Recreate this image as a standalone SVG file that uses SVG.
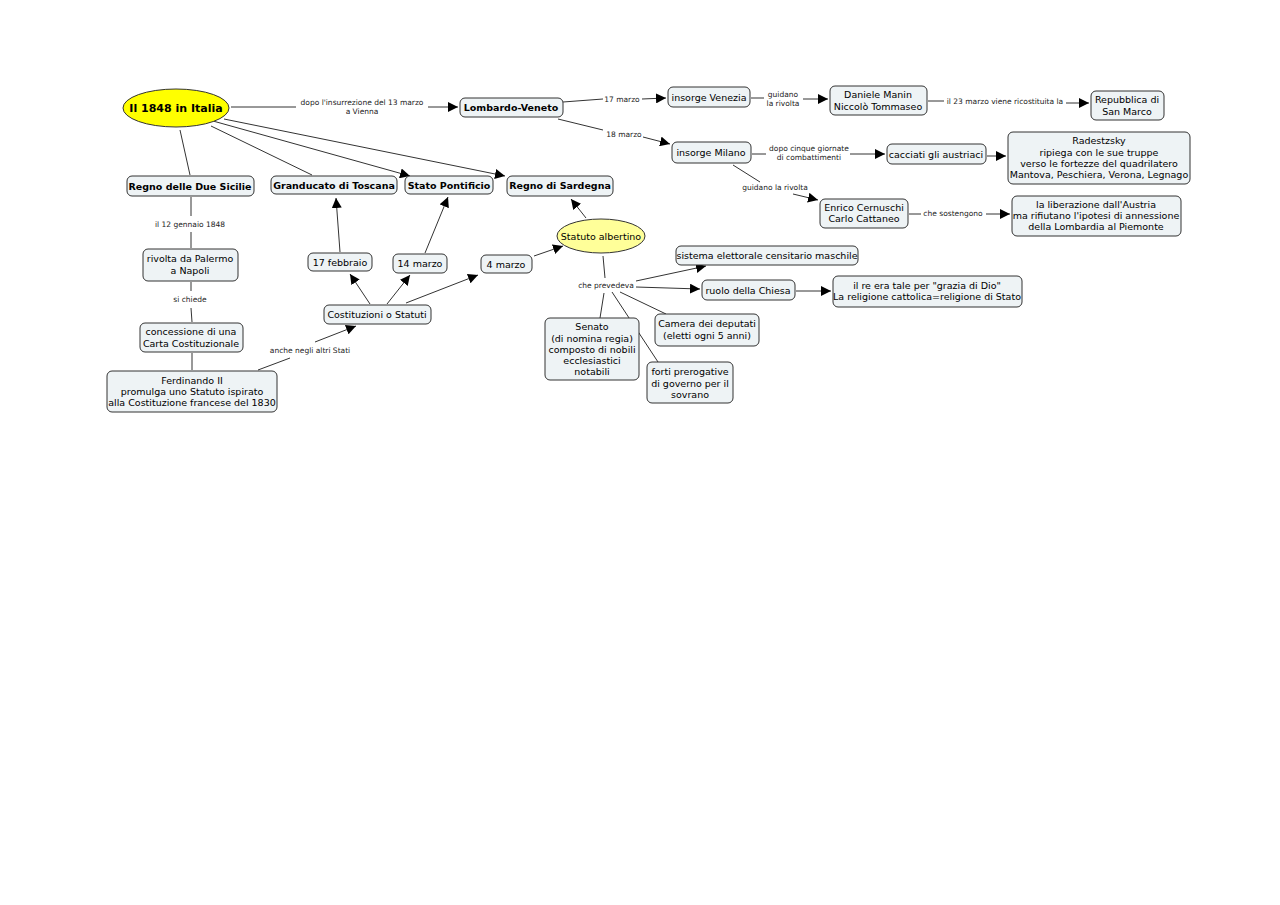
<svg xmlns="http://www.w3.org/2000/svg" width="1280" height="905" viewBox="0 0 1280 905">
<defs>
<marker id="a" viewBox="0 0 10 10" refX="10" refY="5" markerWidth="10" markerHeight="10" markerUnits="userSpaceOnUse" orient="auto"><path d="M0,0 L10,5 L0,10 z" fill="#000"/></marker>
<style>
.n{fill:#eef3f5;stroke:#333;stroke-width:1}
.t{font-family:"DejaVu Sans",Verdana,sans-serif;font-size:9.5px;fill:#000;text-anchor:middle}
.b{font-weight:bold}
.l{font-family:"DejaVu Sans",Verdana,sans-serif;font-size:7.5px;fill:#222;text-anchor:middle}
.c line{stroke:#333;stroke-width:1}
.c line.ar{marker-end:url(#a)}
</style>
</defs>
<rect width="1280" height="905" fill="#fff"/>
<g class="c" id="connectors">
<line x1="231" y1="107" x2="296" y2="107"/><line class="ar" x1="428" y1="107" x2="458" y2="107"/>
<line x1="563" y1="102" x2="603" y2="99"/><line class="ar" x1="642" y1="99" x2="666" y2="98"/>
<line x1="558" y1="119" x2="603" y2="130"/><line class="ar" x1="643" y1="137" x2="670" y2="144"/>
<line x1="751" y1="98" x2="764" y2="98"/><line class="ar" x1="803" y1="99" x2="828" y2="99"/>
<line x1="928" y1="101" x2="944" y2="101"/><line class="ar" x1="1066" y1="103" x2="1089" y2="103"/>
<line x1="752" y1="154" x2="766" y2="154"/><line class="ar" x1="850" y1="154" x2="885" y2="154"/>
<line class="ar" x1="987" y1="156" x2="1006" y2="156"/>
<line x1="733" y1="165" x2="760" y2="182"/><line class="ar" x1="793" y1="194" x2="818" y2="200"/>
<line x1="909" y1="214" x2="921" y2="214"/><line class="ar" x1="986" y1="214" x2="1010" y2="214"/>
<line x1="180" y1="130" x2="190" y2="175"/>
<line x1="211" y1="126" x2="312" y2="175"/>
<line class="ar" x1="213" y1="121" x2="410" y2="176"/>
<line class="ar" x1="224" y1="119" x2="505" y2="176"/>
<line x1="191" y1="197" x2="191" y2="216"/><line x1="191" y1="232" x2="191" y2="248"/>
<line x1="191" y1="282" x2="191" y2="291"/><line x1="191" y1="308" x2="192" y2="322"/>
<line x1="192" y1="353" x2="192" y2="370"/>
<line x1="258" y1="370" x2="290" y2="358"/><line class="ar" x1="315" y1="342" x2="356" y2="326"/>
<line class="ar" x1="370" y1="304" x2="350" y2="274"/>
<line class="ar" x1="387" y1="304" x2="410" y2="275"/>
<line class="ar" x1="406" y1="303" x2="478" y2="275"/>
<line class="ar" x1="340" y1="252" x2="336" y2="198"/>
<line class="ar" x1="425" y1="253" x2="448" y2="197"/>
<line class="ar" x1="534" y1="256" x2="563" y2="246"/>
<line class="ar" x1="586" y1="218" x2="571" y2="199"/>
<line x1="603" y1="256" x2="605" y2="278"/>
<line class="ar" x1="636" y1="281" x2="706" y2="266"/>
<line class="ar" x1="636" y1="287" x2="700" y2="289"/>
<line x1="604" y1="293" x2="600" y2="318"/>
<line x1="620" y1="292" x2="666" y2="314"/>
<line x1="612" y1="292" x2="658" y2="362"/>
<line class="ar" x1="796" y1="291" x2="831" y2="291"/>
</g>
<g id="labels">
<text class="l" x="362" y="105">dopo l'insurrezione del 13 marzo</text><text class="l" x="362" y="114">a Vienna</text>
<text class="l" x="622" y="102">17 marzo</text>
<text class="l" x="624" y="137">18 marzo</text>
<text class="l" x="783" y="97">guidano</text><text class="l" x="783" y="106">la rivolta</text>
<text class="l" x="1005" y="104">il 23 marzo viene ricostituita la</text>
<text class="l" x="809" y="151">dopo cinque giornate</text><text class="l" x="809" y="160">di combattimenti</text>
<text class="l" x="775" y="190">guidano la rivolta</text>
<text class="l" x="953" y="216">che sostengono</text>
<text class="l" x="190" y="227">il 12 gennaio 1848</text>
<text class="l" x="190" y="302">si chiede</text>
<text class="l" x="310" y="353">anche negli altri Stati</text>
<text class="l" x="606" y="288">che prevedeva</text>
</g>
<g id="n-main"><ellipse cx="176" cy="108" rx="53" ry="19" fill="#ffff00" stroke="#333"/><text class="t b" x="176" y="112" style="font-size:11px">Il 1848 in Italia</text></g>
<g id="n-lv"><rect class="n" x="460" y="98" width="103" height="19" rx="5"/><text class="t b" x="511" y="111">Lombardo-Veneto</text></g>
<g id="n-ven"><rect class="n" x="668" y="87" width="82" height="20" rx="5"/><text class="t" x="709" y="101">insorge Venezia</text></g>
<g id="n-manin"><rect class="n" x="830" y="86" width="97" height="29" rx="5"/><text class="t" x="878" y="98">Daniele Manin</text><text class="t" x="878" y="110">Niccolò Tommaseo</text></g>
<g id="n-rep"><rect class="n" x="1091" y="91" width="73" height="29" rx="5"/><text class="t" x="1127" y="103">Repubblica di</text><text class="t" x="1127" y="115">San Marco</text></g>
<g id="n-mil"><rect class="n" x="672" y="142" width="79" height="21" rx="5"/><text class="t" x="711" y="156">insorge Milano</text></g>
<g id="n-cac"><rect class="n" x="887" y="144" width="99" height="20" rx="5"/><text class="t" x="936" y="158">cacciati gli austriaci</text></g>
<g id="n-rad"><rect class="n" x="1008" y="132" width="182" height="52" rx="5"/><text class="t" x="1099" y="144">Radestzsky</text><text class="t" x="1099" y="156">ripiega con le sue truppe</text><text class="t" x="1099" y="167">verso le fortezze del quadrilatero</text><text class="t" x="1099" y="178">Mantova, Peschiera, Verona, Legnago</text></g>
<g id="n-enr"><rect class="n" x="820" y="199" width="88" height="29" rx="5"/><text class="t" x="864" y="211">Enrico Cernuschi</text><text class="t" x="864" y="222">Carlo Cattaneo</text></g>
<g id="n-lib"><rect class="n" x="1012" y="196" width="169" height="40" rx="5"/><text class="t" x="1096" y="208">la liberazione dall'Austria</text><text class="t" x="1096" y="219">ma rifiutano l'ipotesi di annessione</text><text class="t" x="1096" y="230">della Lombardia al Piemonte</text></g>
<g id="n-ds"><rect class="n" x="127" y="176" width="127" height="20" rx="5"/><text class="t b" x="190" y="190">Regno delle Due Sicilie</text></g>
<g id="n-tos"><rect class="n" x="271" y="176" width="126" height="18" rx="5"/><text class="t b" x="334" y="189">Granducato di Toscana</text></g>
<g id="n-pon"><rect class="n" x="405" y="176" width="88" height="18" rx="5"/><text class="t b" x="449" y="189">Stato Pontificio</text></g>
<g id="n-sar"><rect class="n" x="507" y="176" width="106" height="20" rx="5"/><text class="t b" x="560" y="189">Regno di Sardegna</text></g>
<g id="n-stat"><ellipse cx="601" cy="236" rx="44" ry="17" fill="#ffff99" stroke="#333"/><text class="t" x="601" y="240">Statuto albertino</text></g>
<g id="n-riv"><rect class="n" x="143" y="249" width="95" height="32" rx="5"/><text class="t" x="190" y="262">rivolta da Palermo</text><text class="t" x="190" y="274">a Napoli</text></g>
<g id="n-con"><rect class="n" x="140" y="323" width="103" height="29" rx="5"/><text class="t" x="191" y="335">concessione di una</text><text class="t" x="191" y="347">Carta Costituzionale</text></g>
<g id="n-fer"><rect class="n" x="107" y="371" width="170" height="41" rx="5"/><text class="t" x="192" y="384">Ferdinando II</text><text class="t" x="192" y="395">promulga uno Statuto ispirato</text><text class="t" x="192" y="406">alla Costituzione francese del 1830</text></g>
<g id="n-17f"><rect class="n" x="308" y="253" width="64" height="18" rx="5"/><text class="t" x="340" y="266">17 febbraio</text></g>
<g id="n-14m"><rect class="n" x="393" y="254" width="54" height="19" rx="5"/><text class="t" x="420" y="267">14 marzo</text></g>
<g id="n-4m"><rect class="n" x="481" y="255" width="51" height="18" rx="5"/><text class="t" x="506" y="268">4 marzo</text></g>
<g id="n-cos"><rect class="n" x="324" y="305" width="107" height="19" rx="5"/><text class="t" x="377" y="318">Costituzioni o Statuti</text></g>
<g id="n-sis"><rect class="n" x="676" y="246" width="182" height="19" rx="5"/><text class="t" x="767" y="259">sistema elettorale censitario maschile</text></g>
<g id="n-ruo"><rect class="n" x="702" y="280" width="93" height="20" rx="5"/><text class="t" x="748" y="294">ruolo della Chiesa</text></g>
<g id="n-re"><rect class="n" x="833" y="276" width="189" height="31" rx="5"/><text class="t" x="927" y="289">il re era tale per "grazia di Dio"</text><text class="t" x="927" y="300">La religione cattolica=religione di Stato</text></g>
<g id="n-sen"><rect class="n" x="545" y="318" width="94" height="62" rx="5"/><text class="t" x="592" y="330">Senato</text><text class="t" x="592" y="342">(di nomina regia)</text><text class="t" x="592" y="353">composto di nobili</text><text class="t" x="592" y="364">ecclesiastici</text><text class="t" x="592" y="375">notabili</text></g>
<g id="n-cam"><rect class="n" x="655" y="314" width="104" height="32" rx="5"/><text class="t" x="707" y="327">Camera dei deputati</text><text class="t" x="707" y="339">(eletti ogni 5 anni)</text></g>
<g id="n-for"><rect class="n" x="647" y="362" width="86" height="41" rx="5"/><text class="t" x="690" y="375">forti prerogative</text><text class="t" x="690" y="387">di governo per il</text><text class="t" x="690" y="398">sovrano</text></g>
</svg>
